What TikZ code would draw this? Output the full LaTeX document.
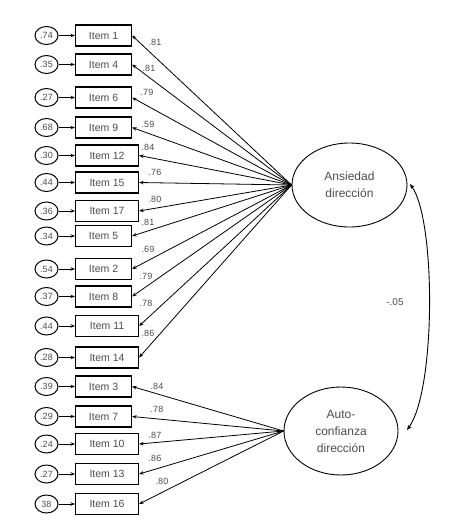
\documentclass[tikz,border=0pt]{standalone}
\usepackage{fontspec}
\setmainfont{Liberation Sans}
\usetikzlibrary{shapes.geometric,arrows.meta}
\begin{document}
\begin{tikzpicture}[x=1pt,y=-1pt,
  itembox/.style={draw,line width=1.1pt,minimum height=21pt,inner sep=0pt,anchor=west,
    text=black!70,font=\fontsize{10.5}{12}\selectfont},
  errc/.style={draw,ellipse,line width=1pt,minimum width=23pt,minimum height=18pt,inner sep=0pt,
    text=black!70,font=\fontsize{9}{10}\selectfont},
  latent/.style={draw,ellipse,line width=0.9pt,inner sep=0pt,align=center,
    text=black!70,font=\fontsize{12}{17}\selectfont},
  lab/.style={text=black!70,font=\fontsize{9}{10}\selectfont,inner sep=0pt},
  arr/.style={-{Stealth[length=4.5pt,width=3.5pt]},line width=0.8pt},
  errarr/.style={-{Stealth[length=4.5pt,width=3.5pt]},line width=1pt}]
\useasboundingbox (0,0) rectangle (474,531);
\node[latent,minimum width=115pt,minimum height=84pt] (ans) at (349.5,185) {Ansiedad\\dirección};
\node[latent,minimum width=114pt,minimum height=88pt] (auto) at (341,431) {Auto-\\confianza\\dirección};
\foreach \n/\y/\w/\e/\l/\lx/\ly/\f in {
  1/35.5/56/.74/.81/155/42/ans,
  4/64.5/56/.35/.81/149/68/ans,
  6/97.5/56/.27/.79/147/92/ans,
  9/127.5/56/.68/.59/148/124/ans,
  12/155.5/63/.30/.84/148/147/ans,
  15/182.5/63/.44/.76/155/172/ans,
  17/211/63/.36/.80/155/199/ans,
  5/236/56/.34/.81/148/222/ans,
  2/269/56/.54/.69/148/249/ans,
  8/296.5/56/.37/.79/146/276/ans,
  11/326/63/.44/.78/146/303/ans,
  14/357.5/63/.28/.86/148/333/ans,
  3/386.5/56/.39/.84/157/386/auto,
  7/416.5/56/.29/.78/157/409/auto,
  10/444/63/.24/.87/155/435/auto,
  13/474/63/.27/.86/155/458/auto,
  16/504/63/38/.80/162/481/auto}{
  \node[itembox,minimum width=\w pt] (it\n) at (75,\y) {Item \n};
  \node[errc] (e\n) at (46.5,\y) {\e};
  \draw[errarr] (e\n) -- (it\n);
  \draw[arr] (\f.west) -- (it\n.east);
  \node[lab] (l\n) at (\lx,\ly) {\l};
}
\coordinate (ca) at (410,184);
\coordinate (cb) at (407,430);
\draw[{Stealth[length=5pt,width=4pt]}-{Stealth[length=5pt,width=4pt]},line width=0.9pt]
  (ca) .. controls (436,220) and (436,390) .. (cb);
\node[lab,font=\fontsize{10}{11}\selectfont] (cor) at (395,302) {-.05};
\end{tikzpicture}
\end{document}
